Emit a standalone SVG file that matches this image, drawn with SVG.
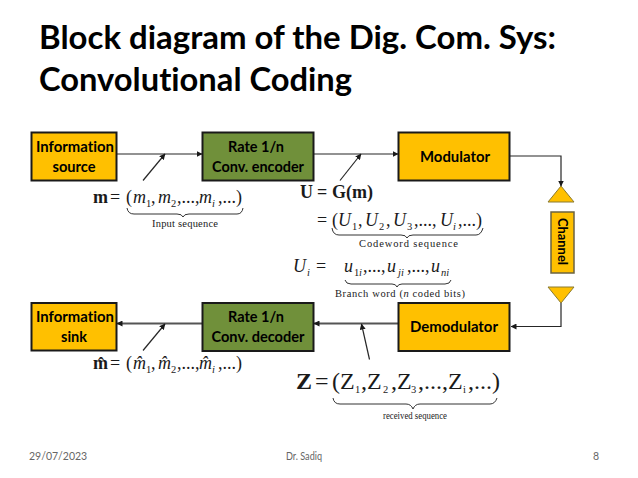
<svg xmlns="http://www.w3.org/2000/svg" width="638" height="478" viewBox="0 0 638 478">
<style>
.t{font-family:Lato,"Open Sans",sans-serif;font-weight:700;fill:#000;font-variant-ligatures:none}
.title{font-size:33px}
.lbl{font-size:15.500px;text-anchor:middle}
.box{stroke:#1a1a1a;stroke-width:2}
.y{fill:#ffc000}
.g{fill:#70903a}
.c{fill:none;stroke:#262626;stroke-width:1.2}
.c2{fill:none;stroke:#555;stroke-width:1.8}
.b{fill:none;stroke:#333;stroke-width:1}
.m{font-family:"Liberation Serif",serif;fill:#1a1a1a;font-size:18px}
.i{font-style:italic}
.bd{font-weight:700}
.s{font-size:10.500px}
.n{font-size:10.500px}
.f{font-family:Lato,sans-serif;font-size:10.500px;fill:#666}
</style>
<defs>
<marker id="a" viewBox="0 0 6 6" refX="5.500" refY="3" markerWidth="6" markerHeight="6" markerUnits="userSpaceOnUse" orient="auto"><path d="M0 0L6 3L0 6Z" fill="#1a1a1a"/></marker>
</defs>
<rect width="638" height="478" fill="#fff"/>
<text class="t title" x="39" y="49" textLength="517" lengthAdjust="spacingAndGlyphs">Block diagram of the Dig. Com. Sys:</text>
<text class="t title" x="39" y="91" textLength="313" lengthAdjust="spacingAndGlyphs">Convolutional Coding</text>

<g id="connectors">
<path class="c" d="M117 154H202" marker-end="url(#a)"/>
<path class="c" d="M314 154H398" marker-end="url(#a)"/>
<path class="c" d="M510 156H561V186" marker-end="url(#a)"/>
<path class="c" d="M561 303V326.500H511" marker-end="url(#a)"/>
<path class="c2" d="M398 323.500H314" marker-end="url(#a)"/>
<path class="c2" d="M202 323.500H117" marker-end="url(#a)"/>
<path class="c" d="M143 180.500L165 154" marker-end="url(#a)"/>
<path class="c" d="M340 180.500L361 154" marker-end="url(#a)"/>
<path class="c" d="M143 350.500L165 324" marker-end="url(#a)"/>
<path class="c" d="M369.500 359.500L361.500 324" marker-end="url(#a)"/>
</g>

<g id="information-source"><rect class="box y" x="31.500" y="132.500" width="85" height="48"/>
<text class="t lbl" x="75" y="152" textLength="78" lengthAdjust="spacingAndGlyphs">Information</text><text class="t lbl" x="74" y="172" textLength="43" lengthAdjust="spacingAndGlyphs">source</text></g>
<g id="conv-encoder"><rect class="box g" x="202.500" y="132.500" width="111" height="48"/>
<text class="t lbl" x="256" y="152" textLength="56" lengthAdjust="spacingAndGlyphs">Rate 1/n</text><text class="t lbl" x="258" y="172" textLength="92" lengthAdjust="spacingAndGlyphs">Conv. encoder</text></g>
<g id="modulator"><rect class="box y" x="398.500" y="132.500" width="111" height="48"/>
<text class="t lbl" x="455" y="162" textLength="70" lengthAdjust="spacingAndGlyphs">Modulator</text></g>
<g id="antenna-tx"><path d="M561 186L574 202H548Z" fill="#ffc000" stroke="#8a7a30" stroke-width="1"/></g>
<g id="channel"><rect x="551" y="212" width="23" height="61" fill="#ffc000" stroke="#6b6340" stroke-width="1.500"/>
<text class="t" font-size="13" text-anchor="middle" textLength="47" lengthAdjust="spacingAndGlyphs" transform="translate(557.500 241.500) rotate(90)">Channel</text></g>
<g id="antenna-rx"><path d="M548 287H574L561 303Z" fill="#ffc000" stroke="#8a7a30" stroke-width="1"/></g>
<g id="demodulator"><rect class="box y" x="398.500" y="303" width="111" height="48"/>
<text class="t lbl" x="454" y="332" textLength="88" lengthAdjust="spacingAndGlyphs">Demodulator</text></g>
<g id="conv-decoder"><rect class="box g" x="202.500" y="303" width="111" height="48"/>
<text class="t lbl" x="256" y="322" textLength="56" lengthAdjust="spacingAndGlyphs">Rate 1/n</text><text class="t lbl" x="258" y="342" textLength="93" lengthAdjust="spacingAndGlyphs">Conv. decoder</text></g>
<g id="information-sink"><rect class="box y" x="31.500" y="303" width="85" height="47.500"/>
<text class="t lbl" x="75" y="322" textLength="78" lengthAdjust="spacingAndGlyphs">Information</text><text class="t lbl" x="74" y="342" textLength="26" lengthAdjust="spacingAndGlyphs">sink</text></g>

<g id="eq-m">
<text class="m" y="203"><tspan class="bd" x="93">m</tspan><tspan x="110">=</tspan><tspan x="126">(</tspan><tspan class="i" x="133">m</tspan><tspan class="n" x="146" dy="4">1</tspan><tspan x="151" dy="-4">,</tspan><tspan class="i" x="158">m</tspan><tspan class="n" x="171" dy="4">2</tspan><tspan x="177" dy="-4">,...,</tspan><tspan class="i" x="199">m</tspan><tspan class="i n" x="212" dy="4">i</tspan><tspan x="218" dy="-4">,...)</tspan></text>
<path class="b" d="M127 208Q128 214 134 214H177Q182 214 183 217Q184 214 189 214H237Q242 214 243 208"/>
<text class="m s" x="152" y="227" textLength="66" lengthAdjust="spacing">Input sequence</text>
</g>
<g id="eq-u">
<text class="m bd" y="198"><tspan x="300">U</tspan><tspan x="317">=</tspan><tspan x="332">G(m)</tspan></text>
<text class="m" y="226"><tspan x="317">=</tspan><tspan x="332">(</tspan><tspan class="i" x="338">U</tspan><tspan class="n" x="352" dy="4">1</tspan><tspan x="358" dy="-4">,</tspan><tspan class="i" x="365">U</tspan><tspan class="n" x="379" dy="4">2</tspan><tspan x="386" dy="-4">,</tspan><tspan class="i" x="393">U</tspan><tspan class="n" x="407" dy="4">3</tspan><tspan x="414" dy="-4">,...,</tspan><tspan class="i" x="440">U</tspan><tspan class="i n" x="453" dy="4">i</tspan><tspan x="458" dy="-4">,...)</tspan></text>
<path class="b" d="M332 228Q333 235 339 235H401Q406 235 407 238Q408 235 413 235H476Q481 235 483 228"/>
<text class="m s" x="359" y="247" textLength="99" lengthAdjust="spacing">Codeword   sequence</text>
</g>
<g id="eq-ui">
<text class="m" y="272"><tspan class="i" x="293">U</tspan><tspan class="i n" x="307" dy="4">i</tspan><tspan x="316" dy="-4">=</tspan></text>
<text class="m" y="272"><tspan class="i" x="344">u</tspan><tspan class="n" x="354" dy="4">1</tspan><tspan class="i n" x="359">i</tspan><tspan x="363" dy="-4">,...,</tspan><tspan class="i" x="387">u</tspan><tspan class="i n" x="398" dy="4">ji</tspan><tspan x="407" dy="-4">,...,</tspan><tspan class="i" x="431">u</tspan><tspan class="i n" x="441" dy="4">ni</tspan></text>
<path class="b" d="M345 280Q346 284 351 284H392Q396 284 397 287Q398 284 402 284H445Q450 284 451 280"/>
<text class="m s" x="335" y="297" textLength="130" lengthAdjust="spacing">Branch  word (<tspan class="i">n</tspan>  coded  bits)</text>
</g>
<g id="eq-mhat">
<text class="m" y="369"><tspan class="bd" x="93">m̂</tspan><tspan x="110">=</tspan><tspan x="126">(</tspan><tspan class="i" x="133">m̂</tspan><tspan class="n" x="146" dy="4">1</tspan><tspan x="151" dy="-4">,</tspan><tspan class="i" x="158">m̂</tspan><tspan class="n" x="171" dy="4">2</tspan><tspan x="177" dy="-4">,...,</tspan><tspan class="i" x="199">m̂</tspan><tspan class="i n" x="212" dy="4">i</tspan><tspan x="218" dy="-4">,...)</tspan></text>
</g>
<g id="eq-z">
<text class="m" style="font-size:24px" y="389"><tspan class="bd" x="296">Z</tspan><tspan x="315">=</tspan><tspan x="332">(</tspan><tspan x="340">Z</tspan><tspan class="n" x="355" dy="4">1</tspan><tspan x="361" dy="-4">,</tspan><tspan x="367">Z</tspan><tspan class="n" x="383" dy="4">2</tspan><tspan x="391" dy="-4">,</tspan><tspan x="397">Z</tspan><tspan class="n" x="411" dy="4">3</tspan><tspan x="418" dy="-4">,...,</tspan><tspan x="448">Z</tspan><tspan class="n" x="463" dy="4">i</tspan><tspan x="468" dy="-4">,...)</tspan></text>
<path class="b" d="M333 398Q334 404 340 404H406Q411 404 413 409Q415 404 420 404H490Q495 404 497 398"/>
<text class="m s" x="383" y="419" textLength="64" lengthAdjust="spacingAndGlyphs">received sequence</text>
</g>

<g id="footer">
<text class="f" x="29" y="460">29/07/2023</text>
<text class="f" x="304" y="460" text-anchor="middle" textLength="36" lengthAdjust="spacingAndGlyphs">Dr. Sadiq</text>
<text class="f" x="599" y="460" text-anchor="end">8</text>
</g>
</svg>
